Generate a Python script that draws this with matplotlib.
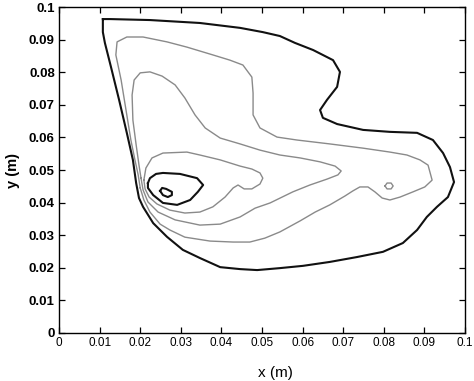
import matplotlib

matplotlib.use("Agg")

import matplotlib.pyplot as plt

# contour lines (x, y in metres)
outer_x = [0.0108, 0.0126, 0.0224, 0.0347, 0.0446, 0.0502, 0.0544, 0.0581, 0.0626, 0.0675,
           0.0692, 0.0685, 0.0660, 0.0643, 0.0650, 0.0685, 0.0749, 0.0815, 0.0882, 0.0921,
           0.0946, 0.0963, 0.0973, 0.0958, 0.0931, 0.0906, 0.0882, 0.0847, 0.0798, 0.0734,
           0.0667, 0.0601, 0.0544, 0.0488, 0.0446, 0.0397, 0.0347, 0.0305, 0.0266, 0.0232,
           0.0207, 0.0197, 0.0190, 0.0182, 0.0167, 0.0148, 0.0128, 0.0113, 0.0108, 0.0108]
outer_y = [0.0963, 0.0963, 0.0960, 0.0951, 0.0936, 0.0923, 0.0911, 0.0890, 0.0868, 0.0837,
           0.0801, 0.0755, 0.0715, 0.0684, 0.0660, 0.0641, 0.0623, 0.0617, 0.0614, 0.0592,
           0.0552, 0.0509, 0.0463, 0.0417, 0.0387, 0.0356, 0.0316, 0.0276, 0.0249, 0.0233,
           0.0218, 0.0206, 0.0199, 0.0193, 0.0196, 0.0202, 0.0230, 0.0255, 0.0295, 0.0337,
           0.0387, 0.0414, 0.0460, 0.0531, 0.0614, 0.0715, 0.0816, 0.0890, 0.0923, 0.0963]

g1_x = [0.0200, 0.0209, 0.0224, 0.0249, 0.0273, 0.0310, 0.0372, 0.0429, 0.0470, 0.0507,
        0.0544, 0.0594, 0.0631, 0.0667, 0.0704, 0.0724, 0.0741, 0.0761, 0.0778, 0.0796,
        0.0815, 0.0840, 0.0872, 0.0901, 0.0919, 0.0909, 0.0889, 0.0857, 0.0815, 0.0749,
        0.0667, 0.0586, 0.0537, 0.0495, 0.0478, 0.0478, 0.0475, 0.0453, 0.0421, 0.0379,
        0.0315, 0.0266, 0.0207, 0.0167, 0.0143, 0.0140, 0.0153, 0.0165, 0.0177, 0.0187,
        0.0195, 0.0200]
g1_y = [0.0445, 0.0408, 0.0371, 0.0334, 0.0316, 0.0294, 0.0282, 0.0279, 0.0279, 0.0291,
        0.0310, 0.0344, 0.0371, 0.0393, 0.0420, 0.0436, 0.0448, 0.0448, 0.0433, 0.0414,
        0.0408, 0.0417, 0.0433, 0.0448, 0.0469, 0.0515, 0.0531, 0.0546, 0.0555, 0.0567,
        0.0580, 0.0592, 0.0601, 0.0629, 0.0669, 0.0736, 0.0785, 0.0822, 0.0837, 0.0853,
        0.0877, 0.0893, 0.0908, 0.0908, 0.0893, 0.0853, 0.0776, 0.0684, 0.0592, 0.0531,
        0.0485, 0.0445]

g2_x = [0.0202, 0.0207, 0.0219, 0.0244, 0.0286, 0.0347, 0.0397, 0.0446, 0.0483, 0.0520,
        0.0576, 0.0618, 0.0660, 0.0687, 0.0695, 0.0680, 0.0643, 0.0594, 0.0544, 0.0495,
        0.0446, 0.0397, 0.0360, 0.0335, 0.0310, 0.0286, 0.0254, 0.0224, 0.0200, 0.0185,
        0.0180, 0.0182, 0.0190, 0.0197, 0.0202]
g2_y = [0.0475, 0.0439, 0.0402, 0.0371, 0.0347, 0.0331, 0.0334, 0.0356, 0.0383, 0.0399,
        0.0433, 0.0454, 0.0472, 0.0485, 0.0497, 0.0512, 0.0525, 0.0537, 0.0546, 0.0561,
        0.0580, 0.0598, 0.0629, 0.0669, 0.0721, 0.0761, 0.0788, 0.0801, 0.0798, 0.0776,
        0.0730, 0.0653, 0.0577, 0.0515, 0.0475]

g3_x = [0.0209, 0.0214, 0.0229, 0.0256, 0.0315, 0.0347, 0.0397, 0.0446, 0.0475, 0.0495,
        0.0502, 0.0495, 0.0475, 0.0456, 0.0441, 0.0429, 0.0409, 0.0379, 0.0347, 0.0310,
        0.0273, 0.0241, 0.0222, 0.0212, 0.0209]
g3_y = [0.0469, 0.0506, 0.0537, 0.0552, 0.0555, 0.0546, 0.0531, 0.0512, 0.0503, 0.0491,
        0.0475, 0.0457, 0.0442, 0.0442, 0.0454, 0.0445, 0.0417, 0.0387, 0.0371, 0.0368,
        0.0377, 0.0396, 0.0417, 0.0442, 0.0469]

inner_x = [0.0219, 0.0224, 0.0239, 0.0256, 0.0298, 0.0340, 0.0355, 0.0342, 0.0323, 0.0291,
           0.0256, 0.0232, 0.0219, 0.0219]
inner_y = [0.0460, 0.0475, 0.0488, 0.0491, 0.0488, 0.0475, 0.0454, 0.0433, 0.0408, 0.0393,
           0.0399, 0.0423, 0.0445, 0.0460]

core_x = [0.0249, 0.0254, 0.0264, 0.0278, 0.0278, 0.0268, 0.0256, 0.0249]
core_y = [0.0436, 0.0445, 0.0442, 0.0433, 0.0423, 0.0417, 0.0423, 0.0436]

island_x = [0.0803, 0.0808, 0.0818, 0.0823, 0.0818, 0.0808, 0.0803]
island_y = [0.0451, 0.0460, 0.0460, 0.0451, 0.0442, 0.0442, 0.0451]

ticks = [i / 100 for i in range(11)]
tick_labels = ["0", "0.01", "0.02", "0.03", "0.04", "0.05", "0.06", "0.07", "0.08", "0.09", "0.1"]

BLACK = "#111111"
GRAY = "#8a8a8a"

plt.rcParams["font.family"] = ["Liberation Sans", "DejaVu Sans"]

fig = plt.figure(figsize=(4.74, 3.81), dpi=100)
ax = fig.add_axes([0.1245, 0.126, 0.8565, 0.8556])

for xs, ys in [(g1_x, g1_y), (g2_x, g2_y), (g3_x, g3_y), (island_x, island_y)]:
    ax.plot(xs, ys, color=GRAY, linewidth=1.0)
for xs, ys in [(outer_x, outer_y), (inner_x, inner_y), (core_x, core_y)]:
    ax.plot(xs, ys, color=BLACK, linewidth=1.5)

ax.set_xlim(0, 0.1)
ax.set_ylim(0, 0.1)
ax.set_xticks(ticks)
ax.set_yticks(ticks)
ax.set_xticklabels(tick_labels, fontsize=8.5)
ax.set_yticklabels(tick_labels, fontsize=9.5, fontweight="bold")
ax.tick_params(direction="in", length=4, width=0.9, top=True, right=True, pad=3)
for spine in ax.spines.values():
    spine.set_linewidth(1.0)

ax.set_xlabel("x (m)", fontsize=11)
ax.xaxis.set_label_coords(0.534, -0.1)
ax.set_ylabel("y (m)", fontsize=10.5, fontweight="bold")
ax.yaxis.set_label_coords(-0.096, 0.5)

fig.savefig("out.png", dpi=100)
plt.close(fig)
